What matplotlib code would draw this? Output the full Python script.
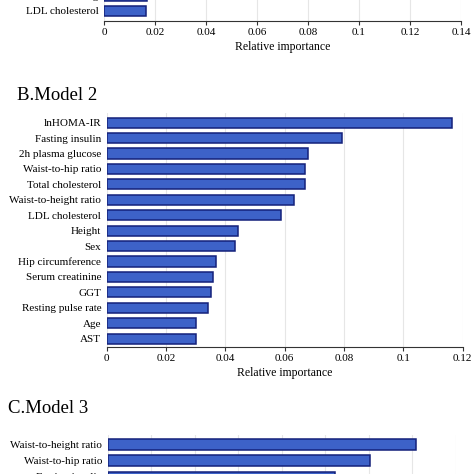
import matplotlib
matplotlib.use("Agg")
import matplotlib.pyplot as plt

a_labels = ["Smoking", "LDL cholesterol"]
a_values = [0.0169, 0.0165]
a_ticks = [0, 0.02, 0.04, 0.06, 0.08, 0.1, 0.12, 0.14]

b_labels = ["lnHOMA-IR", "Fasting insulin", "2h plasma glucose", "Waist-to-hip ratio",
            "Total cholesterol", "Waist-to-height ratio", "LDL cholesterol", "Height", "Sex",
            "Hip circumference", "Serum creatinine", "GGT", "Resting pulse rate", "Age", "AST"]
b_values = [0.1163, 0.0793, 0.0677, 0.0670, 0.0670, 0.0631, 0.0587, 0.0444, 0.0431,
            0.0370, 0.0357, 0.0350, 0.0343, 0.0301, 0.0301]
b_ticks = [0, 0.02, 0.04, 0.06, 0.08, 0.1, 0.12]

c_labels = ["Waist-to-height ratio", "Waist-to-hip ratio", "Fasting insulin"]
c_values = [0.1414, 0.1205, 0.1046]
c_ticks = [0, 0.02, 0.04, 0.06, 0.08, 0.1, 0.12, 0.14, 0.16]

W = H = 474
fig = plt.figure(figsize=(4.74, 4.74), dpi=100)
serif = "Liberation Serif"
FACE = "#3d62c8"
EDGE = "#14217a"

def axes_px(left, right, top, bottom):
    return fig.add_axes([left / W, 1 - bottom / H, (right - left) / W, (bottom - top) / H])

def panel(ax, labels, values, ticks, ylim, show_x=True):
    y = list(range(len(labels)))
    ax.barh(y, values, height=0.66, color=FACE, edgecolor=EDGE, linewidth=1.1, zorder=3)
    ax.set_yticks(y)
    ax.set_yticklabels(labels, fontfamily=serif, fontsize=8)
    ax.set_ylim(*ylim)
    ax.set_xlim(ticks[0], ticks[-1])
    ax.set_xticks(ticks)
    ax.set_xticklabels([("%g" % t) for t in ticks], fontfamily=serif, fontsize=8)
    ax.grid(axis="x", color="#e6e6e6", linewidth=0.8, zorder=0)
    for s in ["top", "right", "left"]:
        ax.spines[s].set_visible(False)
    ax.spines["bottom"].set_color("#333333")
    ax.tick_params(axis="y", length=0, pad=4)
    ax.tick_params(axis="x", length=3, color="#333333", pad=2)
    if show_x:
        ax.set_xlabel("Relative importance", fontfamily=serif, fontsize=8.5, labelpad=3)
    else:
        ax.spines["bottom"].set_visible(False)
        ax.tick_params(axis="x", labelbottom=False, length=0)

# Panel A (mostly cropped above)
axA = axes_px(104, 461, -20, 21)
sp = 15.4
panel(axA, a_labels, a_values, a_ticks, (1 + 10 / sp, 1 + 10 / sp - 41 / sp))

# Panel B
axB = axes_px(106.7, 462.7, 113.4, 347)
panel(axB, b_labels, b_values, b_ticks, (14 + 8.3 / 15.43, -0.6))
fig.text(17 / W, 1 - 100 / H, "B.Model 2", fontfamily=serif, fontsize=13.5)

# Panel C (cropped below)
axC = axes_px(107.7, 456, 434.5, 500)
panel(axC, c_labels, c_values, c_ticks, (-0.6 + 65.5 / 16.3, -0.6), show_x=False)
fig.text(8 / W, 1 - 413 / H, "C.Model 3", fontfamily=serif, fontsize=13.5)

fig.savefig("out.png", dpi=100)
